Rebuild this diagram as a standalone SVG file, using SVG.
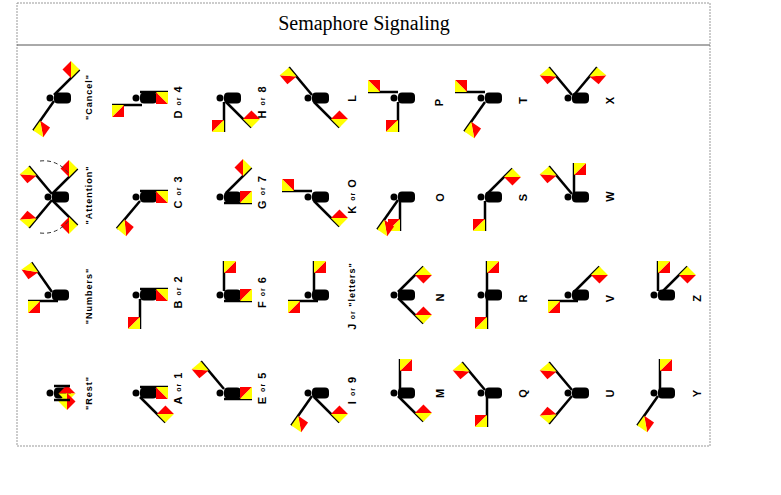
<svg xmlns="http://www.w3.org/2000/svg" xmlns:xlink="http://www.w3.org/1999/xlink" width="781" height="495" viewBox="0 0 781 495">
<style>
.lbl{font-family:"Liberation Sans",Arial,sans-serif;font-size:11px;font-weight:bold;fill:#000;text-anchor:middle;dominant-baseline:central;letter-spacing:1px}
.or{font-size:7px}
.pole{stroke:#000;stroke-width:2.5;fill:none}
.arc{stroke:#333;stroke-width:1;fill:none;stroke-dasharray:4 3}
</style>
<defs>
<g id="flag"><polygon points="0,0 12,0 0,12" fill="#f00"/><polygon points="12,0 12,12 0,12" fill="#ff0"/></g>
<g id="armD"><line class="pole" x1="0" y1="0" x2="36" y2="0"/><use xlink:href="#flag" x="24" y="-12"/></g>
<g id="armS"><line class="pole" x1="0" y1="0" x2="30" y2="0"/><use xlink:href="#flag" x="18" y="-12"/></g>
<g id="armE"><line class="pole" x1="0" y1="0" x2="28" y2="0"/><use xlink:href="#flag" x="16" y="-12"/></g>
<g id="body"><circle cx="0" cy="0" r="3.5" fill="#000"/><rect x="4" y="-5.5" width="17" height="11" rx="4" fill="#000"/></g>
</defs>
<rect x="17" y="3" width="693" height="443" fill="#fff" stroke="#999" stroke-dasharray="2 1"/>
<line x1="17" y1="45" x2="710" y2="45" stroke="#555"/>
<text x="364" y="30" font-family="Liberation Serif,serif" font-size="20" text-anchor="middle">Semaphore Signaling</text>

<g id="cancel" transform="translate(50,98)"><use xlink:href="#body"/><use xlink:href="#armD" transform="translate(4,-3) rotate(-45)"/><use xlink:href="#armD" transform="translate(4,3) rotate(125)"/></g>
<g id="d4" transform="translate(136,98)"><use xlink:href="#body"/><use xlink:href="#armE" transform="translate(4,-6) rotate(0) scale(1,-1)"/><use xlink:href="#armS" transform="translate(6,7) rotate(180)"/></g>
<g id="h8" transform="translate(220,98)"><use xlink:href="#body"/><use xlink:href="#armS" transform="translate(4,4) rotate(90) scale(1,-1)"/><use xlink:href="#armD" transform="translate(6,4) rotate(45)"/></g>
<g id="l" transform="translate(308,98)"><use xlink:href="#body"/><use xlink:href="#armD" transform="translate(4,-3) rotate(-130)"/><use xlink:href="#armD" transform="translate(6,4) rotate(45)"/></g>
<g id="p" transform="translate(394,98)"><use xlink:href="#body"/><use xlink:href="#armS" transform="translate(4,-6) rotate(180) scale(1,-1)"/><use xlink:href="#armS" transform="translate(4,4) rotate(90) scale(1,-1)"/></g>
<g id="t" transform="translate(481,98)"><use xlink:href="#body"/><use xlink:href="#armS" transform="translate(4,-6) rotate(180) scale(1,-1)"/><use xlink:href="#armD" transform="translate(4,4) rotate(125)"/></g>
<g id="x" transform="translate(568,98)"><use xlink:href="#body"/><use xlink:href="#armD" transform="translate(4,-3) rotate(-130)"/><use xlink:href="#armD" transform="translate(6,-3) rotate(-50) scale(1,-1)"/></g>

<g id="attention" transform="translate(48,197)"><use xlink:href="#body"/><use xlink:href="#armD" transform="translate(4,-3) rotate(-130)"/><use xlink:href="#armD" transform="translate(4,-3) rotate(-45)"/><use xlink:href="#armD" transform="translate(4,3) rotate(130) scale(1,-1)"/><use xlink:href="#armD" transform="translate(4,3) rotate(45) scale(1,-1)"/>
<path class="arc" d="M-8,-36 Q10,-38 22,-22"/><path class="arc" d="M-8,36 Q10,38 22,22"/></g>
<g id="c3" transform="translate(136,197)"><use xlink:href="#body"/><use xlink:href="#armE" transform="translate(4,-6) scale(1,-1)"/><use xlink:href="#armD" transform="translate(4,4) rotate(130)"/></g>
<g id="g7" transform="translate(220,197)"><use xlink:href="#body"/><use xlink:href="#armE" transform="translate(4,6)"/><use xlink:href="#armD" transform="translate(6,-4) rotate(-45)"/></g>
<g id="k" transform="translate(308,197)"><use xlink:href="#body"/><use xlink:href="#armS" transform="translate(4,-6) rotate(180) scale(1,-1)"/><use xlink:href="#armD" transform="translate(6,4) rotate(45)"/></g>
<g id="o" transform="translate(394,197)"><use xlink:href="#body"/><use xlink:href="#armS" transform="translate(6,4) rotate(90) scale(1,-1)"/><use xlink:href="#armD" transform="translate(4,3) rotate(125)"/></g>
<g id="s" transform="translate(481,197)"><use xlink:href="#body"/><use xlink:href="#armS" transform="translate(4,4) rotate(90) scale(1,-1)"/><use xlink:href="#armD" transform="translate(6,-3) rotate(-45) scale(1,-1)"/></g>
<g id="w" transform="translate(568,197)"><use xlink:href="#body"/><use xlink:href="#armD" transform="translate(4,-3) rotate(-130)"/><use xlink:href="#armS" transform="translate(6,-4) rotate(-90) scale(1,-1)"/></g>

<g id="numbers" transform="translate(48,295)"><use xlink:href="#body"/><use xlink:href="#armD" transform="translate(4,-3) rotate(-125)"/><use xlink:href="#armS" transform="translate(10,6) rotate(180)"/></g>
<g id="b2" transform="translate(136,295)"><use xlink:href="#body"/><use xlink:href="#armE" transform="translate(4,-6) scale(1,-1)"/><use xlink:href="#armS" transform="translate(4,4) rotate(90) scale(1,-1)"/></g>
<g id="f6" transform="translate(220,295)"><use xlink:href="#body"/><use xlink:href="#armE" transform="translate(4,6)"/><use xlink:href="#armS" transform="translate(4,-4) rotate(-90) scale(1,-1)"/></g>
<g id="j" transform="translate(308,295)"><use xlink:href="#body"/><use xlink:href="#armS" transform="translate(6,-4) rotate(-90) scale(1,-1)"/><use xlink:href="#armS" transform="translate(10,6) rotate(180)"/></g>
<g id="n" transform="translate(394,295)"><use xlink:href="#body"/><use xlink:href="#armD" transform="translate(4,-3) rotate(-45) scale(1,-1)"/><use xlink:href="#armD" transform="translate(4,3) rotate(45)"/></g>
<g id="r" transform="translate(481,295)"><use xlink:href="#body"/><use xlink:href="#armS" transform="translate(6,-4) rotate(-90) scale(1,-1)"/><use xlink:href="#armS" transform="translate(6,4) rotate(90) scale(1,-1)"/></g>
<g id="v" transform="translate(568,295)"><use xlink:href="#body"/><use xlink:href="#armD" transform="translate(6,-3) rotate(-45) scale(1,-1)"/><use xlink:href="#armS" transform="translate(10,6) rotate(180)"/></g>
<g id="z" transform="translate(654,295)"><use xlink:href="#body"/><use xlink:href="#armS" transform="translate(4,-4) rotate(-90) scale(1,-1)"/><use xlink:href="#armD" transform="translate(8,-3) rotate(-45) scale(1,-1)"/></g>

<g id="rest" transform="translate(50,393)"><use xlink:href="#body"/><g transform="translate(17,-8) rotate(45)"><use xlink:href="#flag"/></g><g transform="translate(17,0) rotate(45)"><use xlink:href="#flag" transform="rotate(90 6 6)"/></g><line x1="4" y1="-7" x2="20" y2="-7" class="pole" stroke-width="1.5"/><line x1="4" y1="7" x2="20" y2="7" class="pole" stroke-width="1.5"/></g>
<g id="a1" transform="translate(136,393)"><use xlink:href="#body"/><use xlink:href="#armE" transform="translate(4,-6) scale(1,-1)"/><use xlink:href="#armD" transform="translate(4,4) rotate(45)"/></g>
<g id="e5" transform="translate(220,393)"><use xlink:href="#body"/><use xlink:href="#armE" transform="translate(4,6)"/><use xlink:href="#armD" transform="translate(4,-4) rotate(-130)"/></g>
<g id="i9" transform="translate(308,393)"><use xlink:href="#body"/><use xlink:href="#armD" transform="translate(4,3) rotate(125)"/><use xlink:href="#armD" transform="translate(6,4) rotate(45)"/></g>
<g id="m" transform="translate(394,393)"><use xlink:href="#body"/><use xlink:href="#armS" transform="translate(6,-4) rotate(-90) scale(1,-1)"/><use xlink:href="#armD" transform="translate(4,3) rotate(45)"/></g>
<g id="q" transform="translate(481,393)"><use xlink:href="#body"/><use xlink:href="#armD" transform="translate(4,-3) rotate(-130)"/><use xlink:href="#armS" transform="translate(6,4) rotate(90) scale(1,-1)"/></g>
<g id="u" transform="translate(568,393)"><use xlink:href="#body"/><use xlink:href="#armD" transform="translate(4,-3) rotate(-130)"/><use xlink:href="#armD" transform="translate(4,3) rotate(130) scale(1,-1)"/></g>
<g id="y" transform="translate(654,393)"><use xlink:href="#body"/><use xlink:href="#armS" transform="translate(6,-4) rotate(-90) scale(1,-1)"/><use xlink:href="#armD" transform="translate(4,3) rotate(125)"/></g>

<g id="labels">
<text class="lbl" style="font-size:9px" transform="translate(89,97) rotate(-90)">"Cancel"</text>
<text class="lbl" transform="translate(178,102) rotate(-90)">D <tspan class="or">or</tspan> 4</text>
<text class="lbl" transform="translate(262,102) rotate(-90)">H <tspan class="or">or</tspan> 8</text>
<text class="lbl" transform="translate(352,98) rotate(-90)">L</text>
<text class="lbl" transform="translate(439,102) rotate(-90)">P</text>
<text class="lbl" transform="translate(523,100) rotate(-90)">T</text>
<text class="lbl" transform="translate(610,100) rotate(-90)">X</text>
<text class="lbl" style="font-size:9px" transform="translate(89,195) rotate(-90)">"Attention"</text>
<text class="lbl" transform="translate(178,192) rotate(-90)">C <tspan class="or">or</tspan> 3</text>
<text class="lbl" transform="translate(262,192) rotate(-90)">G <tspan class="or">or</tspan> 7</text>
<text class="lbl" transform="translate(352,196) rotate(-90)">K <tspan class="or">or</tspan> O</text>
<text class="lbl" transform="translate(440,197) rotate(-90)">O</text>
<text class="lbl" transform="translate(523,197) rotate(-90)">S</text>
<text class="lbl" transform="translate(610,196) rotate(-90)">W</text>
<text class="lbl" style="font-size:9px" transform="translate(89,296) rotate(-90)">"Numbers"</text>
<text class="lbl" transform="translate(178,292) rotate(-90)">B <tspan class="or">or</tspan> 2</text>
<text class="lbl" transform="translate(262,292) rotate(-90)">F <tspan class="or">or</tspan> 6</text>
<text class="lbl" style="font-size:9px" transform="translate(352,296) rotate(-90)"><tspan font-size="11">J</tspan> <tspan class="or">or</tspan> "letters"</text>
<text class="lbl" transform="translate(440,297) rotate(-90)">N</text>
<text class="lbl" transform="translate(523,298) rotate(-90)">R</text>
<text class="lbl" transform="translate(610,298) rotate(-90)">V</text>
<text class="lbl" transform="translate(697,298) rotate(-90)">Z</text>
<text class="lbl" style="font-size:9px" transform="translate(89,393) rotate(-90)">"Rest"</text>
<text class="lbl" transform="translate(178,388) rotate(-90)">A <tspan class="or">or</tspan> 1</text>
<text class="lbl" transform="translate(262,388) rotate(-90)">E <tspan class="or">or</tspan> 5</text>
<text class="lbl" transform="translate(352,390) rotate(-90)">I <tspan class="or">or</tspan> 9</text>
<text class="lbl" transform="translate(440,393) rotate(-90)">M</text>
<text class="lbl" transform="translate(523,393) rotate(-90)">Q</text>
<text class="lbl" transform="translate(610,393) rotate(-90)">U</text>
<text class="lbl" transform="translate(697,393) rotate(-90)">Y</text>
</g>
</svg>
